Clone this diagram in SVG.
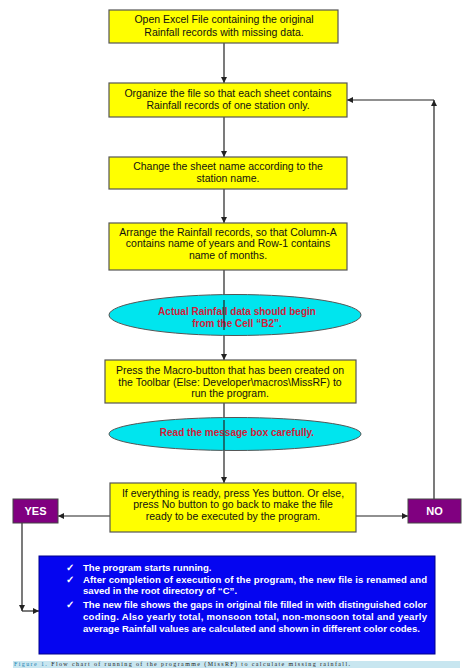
<svg xmlns="http://www.w3.org/2000/svg" width="474" height="668" viewBox="0 0 474 668">
<defs>
<marker id="ah" viewBox="0 0 10 10" refX="10" refY="5" markerWidth="6" markerHeight="6" orient="auto" markerUnits="userSpaceOnUse">
<path d="M0,0 L10,5 L0,10 z" fill="#222"/>
</marker>
<style>
.box{fill:#ffff00;stroke:#555;stroke-width:1.2}
.ell{fill:#00e5ee;stroke:#555;stroke-width:1}
.dec{fill:#800080;stroke:#444;stroke-width:1}
.t{font-family:"Liberation Sans",Arial,sans-serif;font-size:10.5px;fill:#111;text-anchor:middle}
.r{font-family:"Liberation Sans",Arial,sans-serif;font-size:10px;font-weight:bold;fill:#d0203a;text-anchor:middle}
.w{font-family:"Liberation Sans",Arial,sans-serif;font-size:11px;font-weight:bold;fill:#fff;text-anchor:middle}
.b{font-family:"Liberation Sans",Arial,sans-serif;font-size:9.6px;font-weight:bold;fill:#fff}
.c{stroke:#222;stroke-width:1.2;fill:none}
</style>
</defs>
<rect width="474" height="668" fill="#fff"/>
<g id="connectors">
<line class="c" x1="224" y1="43" x2="224" y2="83" marker-end="url(#ah)"/>
<line class="c" x1="224" y1="117" x2="224" y2="157" marker-end="url(#ah)"/>
<line class="c" x1="224" y1="189" x2="224" y2="223" marker-end="url(#ah)"/>
<line class="c" x1="224" y1="270" x2="224" y2="360" marker-end="url(#ah)"/>
<line class="c" x1="224" y1="403" x2="224" y2="483" marker-end="url(#ah)"/>
<line class="c" x1="110" y1="516" x2="58" y2="516" marker-end="url(#ah)"/>
<line class="c" x1="356" y1="516" x2="408" y2="516" marker-end="url(#ah)"/>
<line class="c" x1="434" y1="499" x2="434" y2="100" marker-end="url(#ah)"/>
<line class="c" x1="434" y1="100" x2="347" y2="100" marker-end="url(#ah)"/>
<line class="c" x1="22" y1="523" x2="22" y2="611" marker-end="url(#ah)"/>
<line class="c" x1="22" y1="611" x2="39" y2="611" marker-end="url(#ah)"/>
</g>
<g id="n1">
<rect class="box" x="109" y="10" width="229" height="33"/>
<text class="t" x="224" y="23">Open Excel File containing the original</text>
<text class="t" x="224" y="36">Rainfall records with missing data.</text>
</g>
<g id="n2">
<rect class="box" x="109" y="83" width="238" height="34"/>
<text class="t" x="228" y="97">Organize the file so that each sheet contains</text>
<text class="t" x="228" y="109">Rainfall records of one station only.</text>
</g>
<g id="n3">
<rect class="box" x="109" y="157" width="238" height="32"/>
<text class="t" x="228" y="170">Change the sheet name according to the</text>
<text class="t" x="228" y="182">station name.</text>
</g>
<g id="n4">
<rect class="box" x="109" y="223" width="238" height="47"/>
<text class="t" x="228" y="236">Arrange the Rainfall records, so that Column-A</text>
<text class="t" x="228" y="247">contains name of years and Row-1 contains</text>
<text class="t" x="228" y="259">name of months.</text>
</g>
<g id="n5">
<ellipse class="ell" cx="235" cy="315" rx="126" ry="20.5"/>
<text class="r" x="237" y="315">Actual Rainfall data should begin</text>
<text class="r" x="237" y="327">from the Cell “B2”.</text>
</g>
<g id="n6">
<rect class="box" x="105" y="360" width="251" height="43"/>
<text class="t" x="230" y="374">Press the Macro-button that has been created on</text>
<text class="t" x="230" y="386">the Toolbar (Else: Developer\macros\MissRF) to</text>
<text class="t" x="230" y="397">run the program.</text>
</g>
<g id="n7">
<ellipse class="ell" cx="235" cy="434" rx="126" ry="16.5"/>
<text class="r" x="237" y="436">Read the message box carefully.</text>
</g>
<line class="c" x1="224" y1="300" x2="224" y2="330"/>
<line class="c" x1="224" y1="420" x2="224" y2="450"/>
<g id="n8">
<rect class="box" x="110" y="483" width="246" height="49"/>
<text class="t" x="233" y="497">If everything is ready, press Yes button. Or else,</text>
<text class="t" x="233" y="508">press No button to go back to make the file</text>
<text class="t" x="233" y="520">ready to be executed by the program.</text>
</g>
<g id="yes">
<rect class="dec" x="13" y="499" width="45" height="24"/>
<text class="w" x="35.5" y="515">YES</text>
</g>
<g id="no">
<rect class="dec" x="408" y="499" width="53" height="24"/>
<text class="w" x="434.5" y="515">NO</text>
</g>
<g id="n9">
<rect x="39" y="556" width="396" height="98" fill="#0505f0" stroke="#00008a" stroke-width="1"/>
<text class="b" x="66" y="571">✓</text>
<text class="b" x="83" y="571">The program starts running.</text>
<text class="b" x="66" y="583">✓</text>
<text class="b" x="83" y="583" textLength="344" lengthAdjust="spacing">After completion of execution of the program, the new file is renamed and</text>
<text class="b" x="83" y="594">saved in the root directory of “C”.</text>
<text class="b" x="66" y="608">✓</text>
<text class="b" x="83" y="608" textLength="344" lengthAdjust="spacing">The new file shows the gaps in original file filled in with distinguished color</text>
<text class="b" x="83" y="620" textLength="344" lengthAdjust="spacing">coding. Also yearly total, monsoon total, non-monsoon total and yearly</text>
<text class="b" x="83" y="632">average Rainfall values are calculated and shown in different color codes.</text>
</g>
<g id="caption">
<rect x="13" y="661" width="447" height="7" fill="#c8e6f0"/>
<text x="14" y="666" font-family="Liberation Serif,serif" font-size="6px" fill="#1a7fb0" textLength="336" lengthAdjust="spacing">Figure 1. <tspan fill="#222">Flow chart of running of the programme (MissRF) to calculate missing rainfall.</tspan></text>
</g>
</svg>
